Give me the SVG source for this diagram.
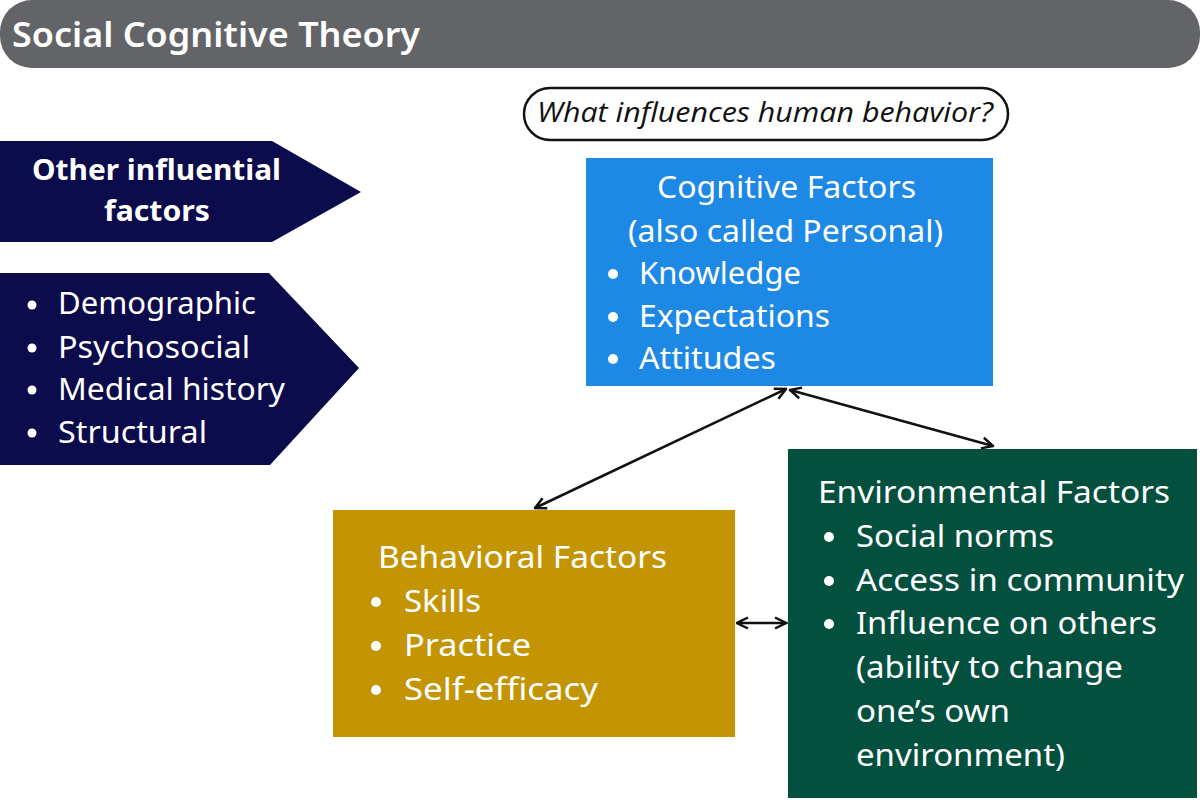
<svg xmlns="http://www.w3.org/2000/svg" width="1200" height="800" viewBox="0 0 1200 800">
  <defs>
    <marker id="ah" viewBox="0 0 14 14" refX="12.5" refY="7" markerWidth="14" markerHeight="14" markerUnits="userSpaceOnUse" orient="auto-start-reverse">
      <path d="M1.5,1.5 L12.5,7 L1.5,12.5" fill="none" stroke="#111" stroke-width="2.5" stroke-linejoin="miter"/>
    </marker>
    <style>
      .t { font-family: "Noto Sans", "Open Sans", "Liberation Sans", sans-serif; fill: #ffffff; font-size: 30px; }
      .title { font-family: "Noto Sans", "Open Sans", "Liberation Sans", sans-serif; fill: #ffffff; font-size: 35px; font-weight: 600; }
      .hdr { font-family: "Noto Sans", "Open Sans", "Liberation Sans", sans-serif; fill: #ffffff; font-size: 28px; font-weight: bold; }
      .q { font-family: "Open Sans", "Noto Sans", "Liberation Sans", sans-serif; font-style: italic; font-size: 28px; fill: #111; }
      .bul { fill: #ffffff; }
      .conn { stroke: #111; stroke-width: 2.6; fill: none; marker-start: url(#ah); marker-end: url(#ah); }
    </style>
  </defs>
  <rect width="1200" height="800" fill="#ffffff"/>

  <g id="title">
    <rect x="0" y="0" width="1200" height="68" rx="32" ry="32" fill="#636468"/>
    <text class="title" x="12" y="47" textLength="408" lengthAdjust="spacingAndGlyphs">Social Cognitive Theory</text>
  </g>

  <g id="question">
    <rect x="524" y="88" width="484" height="52" rx="26" ry="26" fill="#ffffff" stroke="#111" stroke-width="2.5"/>
    <text class="q" x="537" y="122" textLength="456" lengthAdjust="spacingAndGlyphs">What influences human behavior?</text>
  </g>

  <g id="other-factors-header">
    <polygon points="0,141 272,141 361,192 272,242 0,242" fill="#0c0b4b"/>
    <text class="hdr" x="32" y="180" textLength="249" lengthAdjust="spacingAndGlyphs">Other influential</text>
    <text class="hdr" x="104" y="221" textLength="106" lengthAdjust="spacingAndGlyphs">factors</text>
  </g>

  <g id="other-factors-list">
    <polygon points="0,273 269,273 359,368 270,465 0,465" fill="#0c0b4b"/>
    <circle class="bul" cx="32" cy="305" r="4.5"/>
    <circle class="bul" cx="32" cy="348" r="4.5"/>
    <circle class="bul" cx="32" cy="390" r="4.5"/>
    <circle class="bul" cx="32" cy="433" r="4.5"/>
    <text class="t" x="58" y="314" textLength="198" lengthAdjust="spacingAndGlyphs">Demographic</text>
    <text class="t" x="58" y="358" textLength="192" lengthAdjust="spacingAndGlyphs">Psychosocial</text>
    <text class="t" x="58" y="400" textLength="227" lengthAdjust="spacingAndGlyphs">Medical history</text>
    <text class="t" x="58" y="443" textLength="149" lengthAdjust="spacingAndGlyphs">Structural</text>
  </g>

  <g id="cognitive">
    <rect x="586" y="158" width="407" height="228" fill="#1e88e5"/>
    <text class="t" x="657" y="198" textLength="259" lengthAdjust="spacingAndGlyphs">Cognitive Factors</text>
    <text class="t" x="628" y="242" textLength="315" lengthAdjust="spacingAndGlyphs">(also called Personal)</text>
    <circle class="bul" cx="613" cy="274" r="5"/>
    <circle class="bul" cx="613" cy="317" r="5"/>
    <circle class="bul" cx="613" cy="359" r="5"/>
    <text class="t" x="639" y="284" textLength="162" lengthAdjust="spacingAndGlyphs">Knowledge</text>
    <text class="t" x="639" y="327" textLength="191" lengthAdjust="spacingAndGlyphs">Expectations</text>
    <text class="t" x="639" y="369" textLength="137" lengthAdjust="spacingAndGlyphs">Attitudes</text>
  </g>

  <g id="behavioral">
    <rect x="333" y="510" width="402" height="227" fill="#c39505"/>
    <text class="t" x="378" y="568" textLength="289" lengthAdjust="spacingAndGlyphs">Behavioral Factors</text>
    <circle class="bul" cx="376" cy="602" r="5"/>
    <circle class="bul" cx="376" cy="646" r="5"/>
    <circle class="bul" cx="376" cy="690" r="5"/>
    <text class="t" x="404" y="612" textLength="77" lengthAdjust="spacingAndGlyphs">Skills</text>
    <text class="t" x="404" y="656" textLength="127" lengthAdjust="spacingAndGlyphs">Practice</text>
    <text class="t" x="404" y="700" textLength="194" lengthAdjust="spacingAndGlyphs">Self-efficacy</text>
  </g>

  <g id="environmental">
    <rect x="788" y="449" width="409" height="349" fill="#03503f"/>
    <text class="t" x="818" y="503" textLength="352" lengthAdjust="spacingAndGlyphs">Environmental Factors</text>
    <circle class="bul" cx="829" cy="537" r="5"/>
    <circle class="bul" cx="829" cy="581" r="5"/>
    <circle class="bul" cx="829" cy="624" r="5"/>
    <text class="t" x="856" y="547" textLength="198" lengthAdjust="spacingAndGlyphs">Social norms</text>
    <text class="t" x="856" y="591" textLength="328" lengthAdjust="spacingAndGlyphs">Access in community</text>
    <text class="t" x="856" y="634" textLength="301" lengthAdjust="spacingAndGlyphs">Influence on others</text>
    <text class="t" x="856" y="678" textLength="267" lengthAdjust="spacingAndGlyphs">(ability to change</text>
    <text class="t" x="856" y="722" textLength="154" lengthAdjust="spacingAndGlyphs">one’s own</text>
    <text class="t" x="856" y="766" textLength="209" lengthAdjust="spacingAndGlyphs">environment)</text>
  </g>

  <g id="connectors">
    <line class="conn" x1="786" y1="389" x2="535" y2="508"/>
    <line class="conn" x1="790" y1="390" x2="993" y2="446"/>
    <line class="conn" x1="737" y1="623" x2="786" y2="623"/>
  </g>
</svg>
